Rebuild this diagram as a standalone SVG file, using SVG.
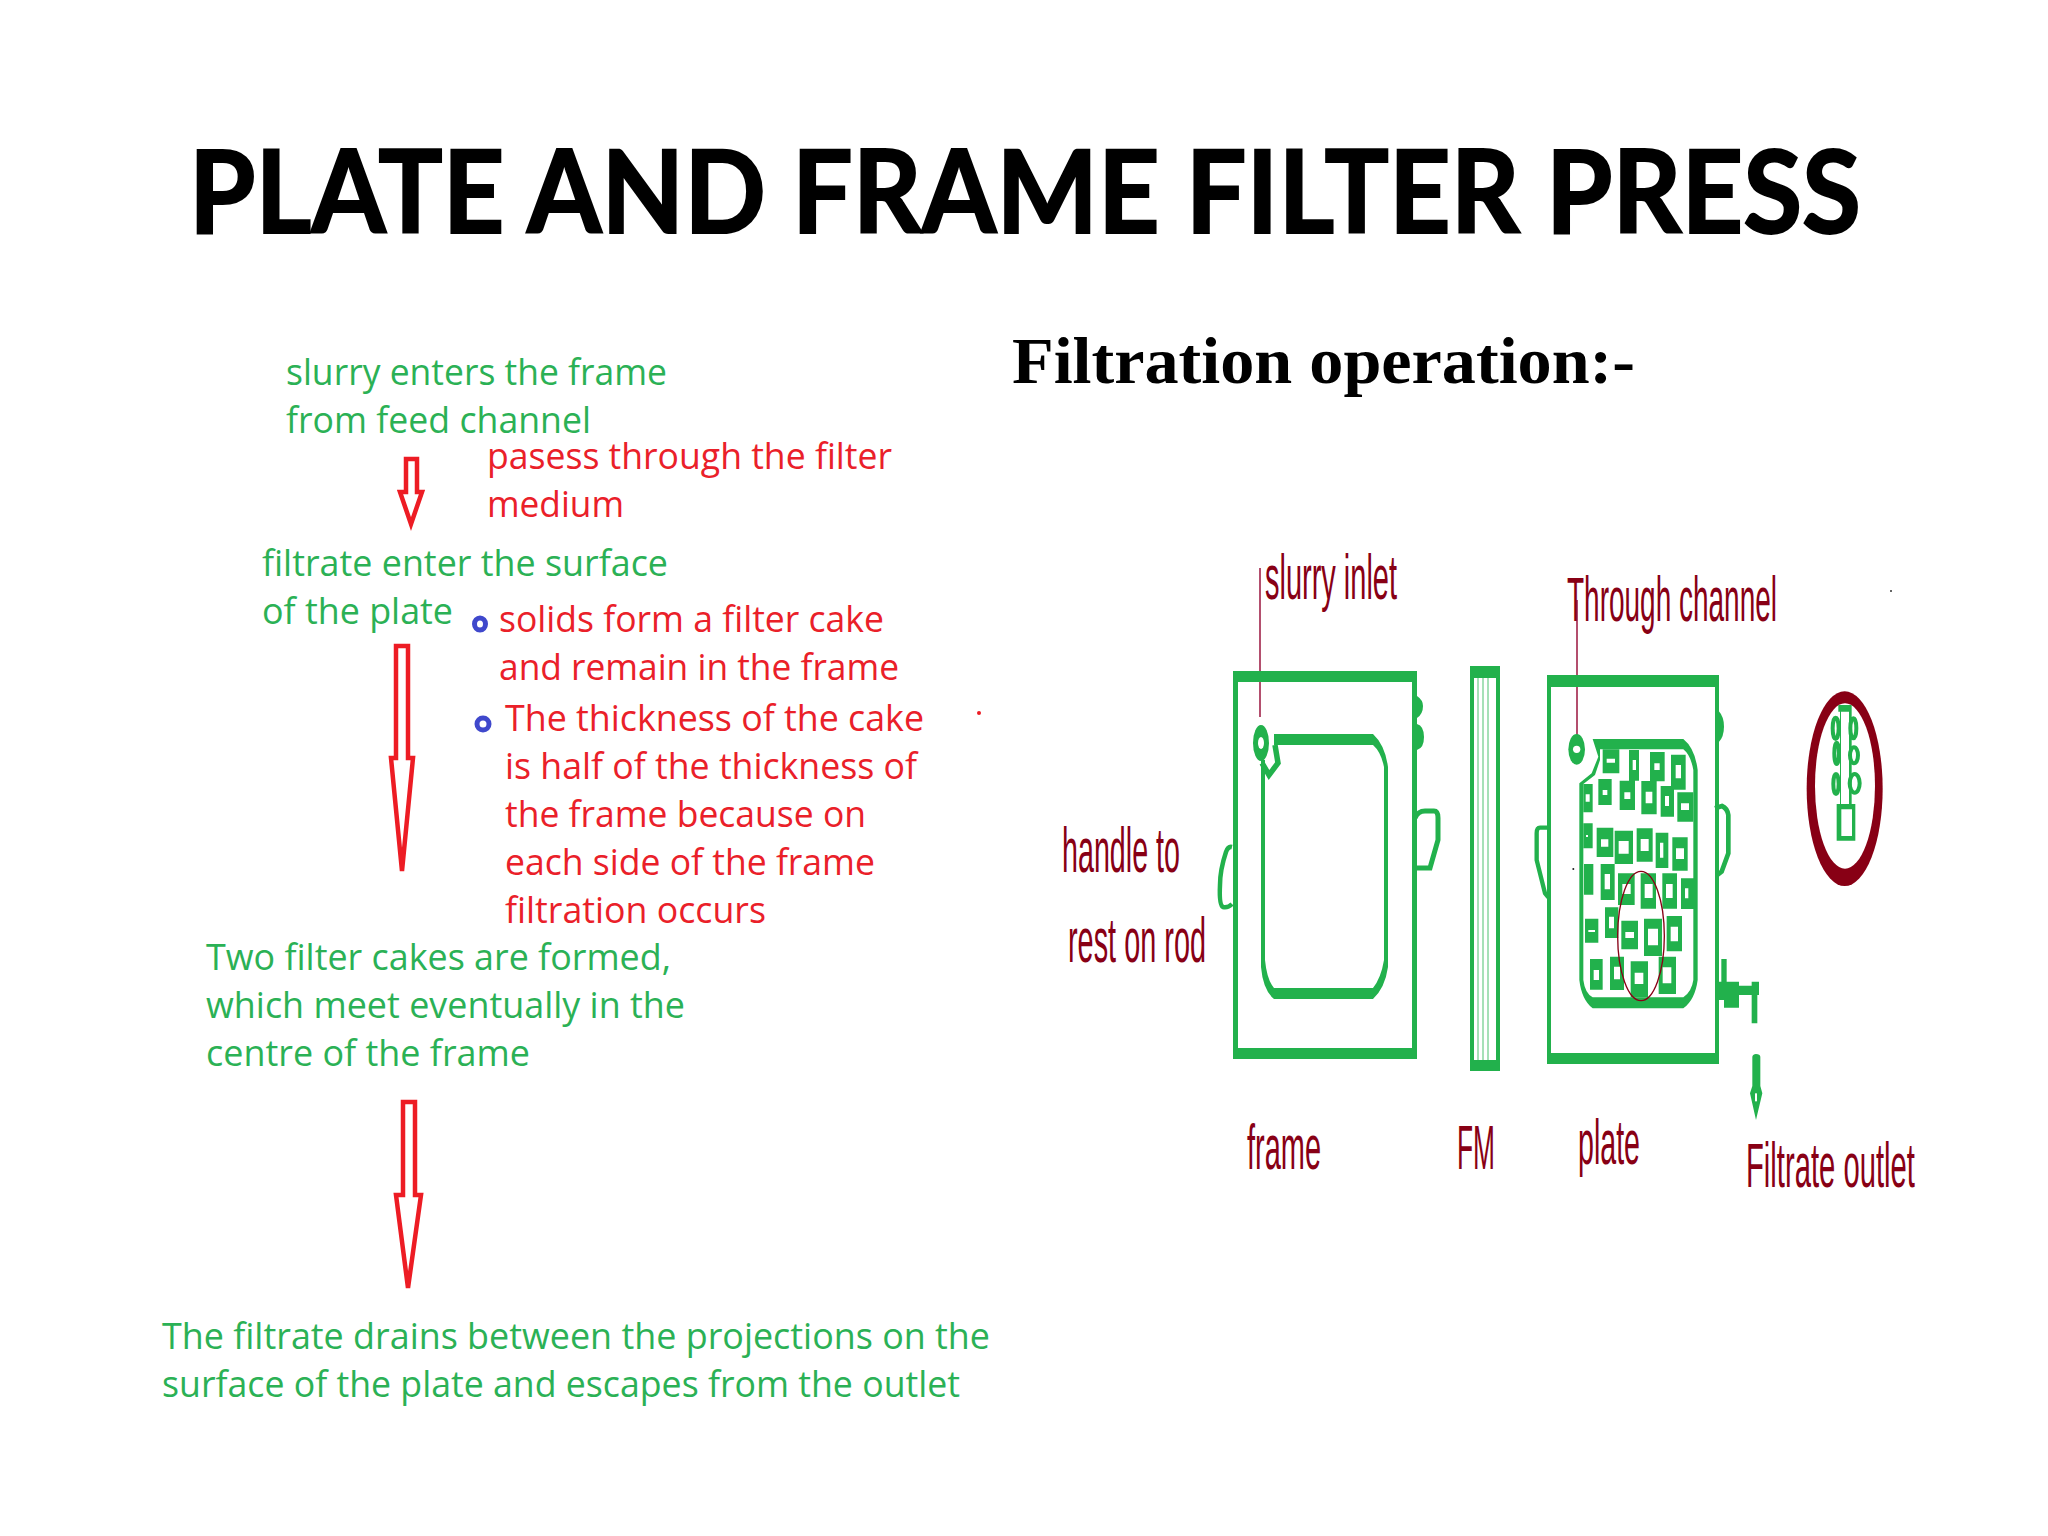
<svg xmlns="http://www.w3.org/2000/svg" width="2048" height="1536" viewBox="0 0 2048 1536">
<style>
.g{fill:#22b14c}
.gs{fill:none;stroke:#22b14c}
.w{fill:#fff}
.t{font-family:"Open Sans","Noto Sans","Liberation Sans",sans-serif;font-size:36px}
.tg{fill:#2bb155}
.tr{fill:#ea2029}
.c{font-family:"Liberation Sans",Arial,sans-serif;font-size:63px;fill:#880015}
.ar{fill:#fff;stroke:#ed1c24;stroke-width:4.5;stroke-linejoin:miter}
.bul{fill:none;stroke:#3f48cc;stroke-width:5}
.lead{fill:none;stroke:#a0224a;stroke-width:1.6}
</style>
<rect width="2048" height="1536" fill="#fff"/>
<g id="title">
<text x="189" y="233" textLength="1672" lengthAdjust="spacingAndGlyphs" font-family="Lato,'Liberation Sans',sans-serif" font-weight="700" font-size="115" fill="#000" stroke="#000" stroke-width="2">PLATE AND FRAME FILTER PRESS</text>
<text x="1012" y="383" textLength="623" lengthAdjust="spacingAndGlyphs" font-family="'Liberation Serif','Times New Roman',serif" font-weight="700" font-size="66" fill="#000">Filtration operation:-</text>
</g>
<g id="steps">
<g id="step-slurry"><text class="t tg" x="286" y="385" textLength="381" lengthAdjust="spacingAndGlyphs">slurry enters the frame</text><text class="t tg" x="286" y="433" textLength="305" lengthAdjust="spacingAndGlyphs">from feed channel</text></g>
<g id="step-medium"><text class="t tr" x="487" y="469" textLength="405" lengthAdjust="spacingAndGlyphs">pasess through the filter</text><text class="t tr" x="487" y="517" textLength="137" lengthAdjust="spacingAndGlyphs">medium</text></g>
<g id="step-filtrate"><text class="t tg" x="262" y="576" textLength="406" lengthAdjust="spacingAndGlyphs">filtrate enter the surface</text><text class="t tg" x="262" y="624" textLength="191" lengthAdjust="spacingAndGlyphs">of the plate</text></g>
<g id="step-solids"><text class="t tr" x="499" y="632" textLength="385" lengthAdjust="spacingAndGlyphs">solids form a filter cake</text><text class="t tr" x="499" y="680" textLength="400" lengthAdjust="spacingAndGlyphs">and remain in the frame</text></g>
<g id="step-thickness"><text class="t tr" x="505" y="731" textLength="419" lengthAdjust="spacingAndGlyphs">The thickness of the cake</text><text class="t tr" x="505" y="779" textLength="412" lengthAdjust="spacingAndGlyphs">is half of the thickness of</text><text class="t tr" x="505" y="827" textLength="361" lengthAdjust="spacingAndGlyphs">the frame because on</text><text class="t tr" x="505" y="875" textLength="370" lengthAdjust="spacingAndGlyphs">each side of the frame</text><text class="t tr" x="505" y="923" textLength="261" lengthAdjust="spacingAndGlyphs">filtration occurs</text></g>
<g id="step-cakes"><text class="t tg" x="206" y="970" textLength="465" lengthAdjust="spacingAndGlyphs">Two filter cakes are formed,</text><text class="t tg" x="206" y="1018" textLength="479" lengthAdjust="spacingAndGlyphs">which meet eventually in the</text><text class="t tg" x="206" y="1066" textLength="324" lengthAdjust="spacingAndGlyphs">centre of the frame</text></g>
<g id="step-drain"><text class="t tg" x="162" y="1349" textLength="828" lengthAdjust="spacingAndGlyphs">The filtrate drains between the projections on the</text><text class="t tg" x="162" y="1397" textLength="798" lengthAdjust="spacingAndGlyphs">surface of the plate and escapes from the outlet</text></g>
</g>
<g id="connectors">
<path class="ar" d="M406 459H417V492H422L411 524L400 492H406Z"/>
<path class="ar" d="M396 646H408V758H413L402 871L391 758H396Z"/>
<path class="ar" d="M403 1102H415V1195H421L408 1288L396 1195H403Z"/>
<path class="lead" d="M1260 568V717"/>
<path class="lead" d="M1577 600V736"/>
</g>
<g id="bullets">
<ellipse class="bul" cx="480" cy="624" rx="5.5" ry="6"/>
<ellipse class="bul" cx="483" cy="724" rx="6" ry="6"/>
<circle cx="979" cy="713" r="2" fill="#ed1c24"/>
<circle cx="1891" cy="591" r="1" fill="#333"/>
</g>
<g id="frame">
<path class="g" fill-rule="evenodd" d="M1233 671H1417V1059H1233ZM1238 682V1048H1412V682Z"/>
<path class="g" d="M1274 734H1373Q1385 745 1388 767V967Q1385 988 1373 999H1274Q1263 990 1261 967V760H1265V960Q1267 980 1274 988H1373Q1381 978 1384 960V767Q1381 752 1373 745H1274Z"/>
<path class="gs" stroke-width="5.5" d="M1262 763L1269 775L1278 763L1275 745"/>
<ellipse class="g" cx="1261" cy="743" rx="8" ry="18"/>
<ellipse class="w" cx="1261" cy="743" rx="3" ry="6"/>
<path class="g" d="M1412 696H1417Q1423 700 1423 706Q1423 714 1417 718H1412ZM1412 724H1417Q1424 726 1424 737Q1424 748 1417 750H1412Z"/>
<path class="gs" stroke-width="5" d="M1415 818Q1418 811 1425 811H1434Q1438 811 1438 818V840L1430 868H1415"/>
<path class="gs" stroke-width="4.5" d="M1232 847Q1228 846 1226 852Q1220 870 1220 885Q1219 905 1223 907Q1228 908 1232 904"/>
</g>
<g id="filter-medium">
<path class="g" fill-rule="evenodd" d="M1470 666H1500V1071H1470ZM1474 678V1060H1496V678Z"/>
<path class="gs" stroke-width="1" opacity=".8" d="M1478 678V1060M1483 678V1060M1488 678V1060"/>
</g>
<g id="plate">
<path class="g" fill-rule="evenodd" d="M1547 675H1719V1064H1547ZM1551 687V1053H1715V687Z"/>
<g transform="translate(1520 660) scale(.33333)">
<path class="g" fill-rule="evenodd" d="M218 237H490Q525 265 533 330V960Q525 1020 490 1045H218Q185 1020 178 960V370L215 340L235 290ZM240 268V300L225 345L190 372V960Q195 1000 218 1012H490Q515 995 520 960V330Q512 285 490 268Z"/>
<path class="g" d="M248 268h50v72h-50z M327 270h30v92h-30z M390 276h44v88h-44z M453 284h44v105h-44z M235 357h40v78h-40z M299 362h46v88h-46z M364 363h46v100h-46z M422 378h40v92h-40z M472 397h48v88h-48z M190 372h28v85h-28z M190 490h28v75h-28z M230 503h50v88h-50z M284 512h55v100h-55z M350 505h48v100h-48z M407 518h38v106h-38z M457 532h46v100h-46z M192 612h28v92h-28z M242 612h42v108h-42z M294 640h50v95h-50z M362 640h46v106h-46z M427 640h44v106h-44z M483 655h42v92h-42z M195 776h40v72h-40z M255 742h40v92h-40z M304 782h50v86h-50z M372 776h54v112h-54z M440 768h46v106h-46z M210 897h38v92h-38z M270 890h42v100h-42z M332 904h52v108h-52z M416 890h52v112h-52z"/>
<path class="w" d="M260 296h25v12h-25z M338 300h10v30h-10z M403 310h16v20h-16z M467 315h16v40h-16z M248 390h14v15h-14z M313 397h18v20h-18z M377 395h20v35h-20z M435 408h12v30h-12z M483 430h24v20h-24z M197 403h12v22h-12z M198 525h6v6h-6z M243 538h22v22h-22z M296 543h30v38h-30z M362 537h24v36h-24z M420 548h10v45h-10z M468 565h24v32h-24z M254 642h16v46h-16z M307 672h25v30h-25z M374 672h24v42h-24z M438 672h20v42h-20z M495 685h10v30h-10z M205 810h20v6h-20z M267 770h15v35h-15z M316 816h26v18h-26z M384 806h30v50h-30z M452 800h22v44h-22z M221 930h16v30h-16z M282 920h18v38h-18z M344 938h26v34h-26z M428 922h26v48h-26z"/>
<ellipse fill="none" stroke="#880015" stroke-width="4" cx="363" cy="828" rx="70" ry="194"/>
<ellipse class="g" cx="170" cy="268" rx="25" ry="46"/>
<circle class="w" cx="170" cy="268" r="11"/>
<path class="g" d="M596 153Q612 170 612 200Q612 230 596 247Z"/>
<path class="gs" stroke-width="14" d="M585 445L606 438Q622 445 625 465V580L605 635L592 645"/>
<path class="gs" stroke-width="13" d="M85 503H60Q50 503 50 520V600L75 700L85 712"/>
<path class="g" d="M604 897h16v68h-16z M585 965h30v55h-30z M612 965h45v78h-45z M650 977h50v28h-50z M695 965h22v40h-5v85h-17z"/>
<path class="g" d="M697 1190Q699 1182 708 1182Q720 1182 721 1190V1278L727 1300L708 1380L690 1300L697 1278Z"/>
<rect class="w" x="705" y="1300" width="6" height="24"/>
<circle cx="160" cy="627" r="3" fill="#222"/>
</g>
</g>
<g id="lens">
<g transform="translate(1700 680) scale(.33333)">
<ellipse cx="434" cy="326" rx="114" ry="292" fill="#880015"/>
<ellipse class="w" cx="435" cy="318" rx="90" ry="248"/>
<path class="g" fill-rule="evenodd" d="M415 75h40v297h11v110h-56V372h10V95h-5zM423 95v277h24V95zM424 388v80h32v-80z"/>
<g class="gs" stroke-width="12">
<ellipse cx="407" cy="145" rx="9" ry="32"/><ellipse cx="460" cy="145" rx="9" ry="30"/>
<ellipse cx="410" cy="220" rx="7" ry="32"/><ellipse cx="462" cy="226" rx="12" ry="24"/>
<ellipse cx="408" cy="312" rx="8" ry="30"/><ellipse cx="464" cy="310" rx="15" ry="28"/>
</g>
</g>
</g>
<g id="labels">
<text class="c" x="1265" y="599" textLength="132" lengthAdjust="spacingAndGlyphs">slurry inlet</text>
<text class="c" x="1567" y="621" textLength="210" lengthAdjust="spacingAndGlyphs">Through channel</text>
<text class="c" x="1062" y="872" textLength="118" lengthAdjust="spacingAndGlyphs">handle to</text>
<text class="c" x="1068" y="962" textLength="138" lengthAdjust="spacingAndGlyphs">rest on rod</text>
<text class="c" x="1247" y="1169" textLength="74" lengthAdjust="spacingAndGlyphs">frame</text>
<text class="c" x="1457" y="1169" textLength="38" lengthAdjust="spacingAndGlyphs">FM</text>
<text class="c" x="1578" y="1164" textLength="62" lengthAdjust="spacingAndGlyphs">plate</text>
<text class="c" transform="translate(1746 1187) scale(.5 1)" x="0" y="0" textLength="338" lengthAdjust="spacingAndGlyphs">Filtrate outlet</text>
</g>
</svg>
